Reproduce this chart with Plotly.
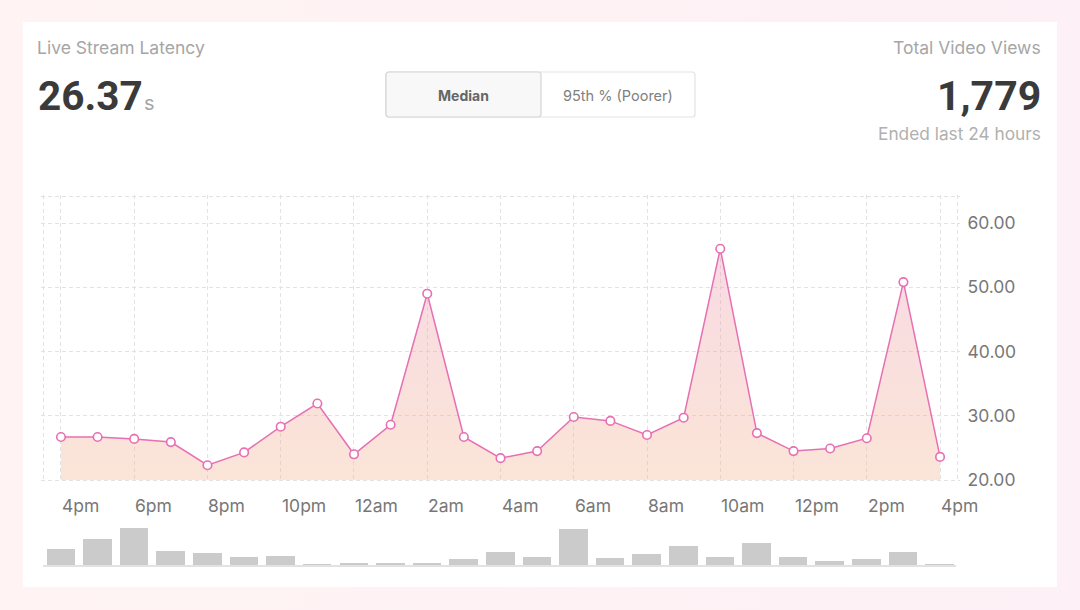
import plotly.graph_objects as go

W, H = 1080, 610

hour_labels = ["4pm", "6pm", "8pm", "10pm", "12am", "2am", "4am", "6am", "8am", "10am", "12pm", "2pm", "4pm"]
hours = list(range(25))
latency = [26.7, 26.7, 26.4, 25.9, 22.3, 24.3, 28.3, 31.9, 24.0, 28.6, 49.0, 26.7, 23.4,
           24.5, 29.8, 29.2, 27.0, 29.7, 56.0, 27.3, 24.5, 24.9, 26.5, 50.8, 23.6]
views = [96, 159, 226, 86, 72, 49, 53, 6, 12, 8, 12, 37, 81, 49, 222, 43, 69, 116, 49, 134, 49, 26, 39, 81, 4]
y_ticks = [20, 30, 40, 50, 60]

label_tick_positions = hours[::2]


def px(x):
    return x / W


def py(y):
    return 1 - y / H


def round_box(x0, y0, x1, y1, r=3):
    # rounded rectangle in paper fractions, pixel input
    rx, ry = r / W, r / H
    a, b, c, d = px(x0), py(y1), px(x1), py(y0)
    return (f"M {a + rx} {b} L {c - rx} {b} Q {c} {b} {c} {b + ry} L {c} {d - ry} Q {c} {d} {c - rx} {d} "
            f"L {a + rx} {d} Q {a} {d} {a} {d - ry} L {a} {b + ry} Q {a} {b} {a + rx} {b} Z")


def text(x, y, s, size, color, anchor="left", weight=400, font="Inter"):
    return dict(x=px(x), y=py(y), xref="paper", yref="paper", text=s, showarrow=False, xanchor=anchor,
                yanchor="middle", font=dict(size=size, color=color, family=font, weight=weight))


fig = go.Figure()

# area as a closed shape so it stops on the 20.00 line
fig.add_trace(go.Scatter(
    x=hours + hours[::-1], y=latency + [y_ticks[0]] * len(hours), mode="lines", fill="toself",
    line=dict(width=0, color="rgba(0,0,0,0)"),
    fillgradient=dict(type="vertical", start=60, stop=20,
                      colorscale=[[0, "rgba(238,160,190,0.40)"], [1, "rgba(243,185,150,0.38)"]]),
    showlegend=False, hoverinfo="skip",
))
fig.add_trace(go.Scatter(
    x=hours, y=latency, mode="lines+markers",
    line=dict(color="#e76fb3", width=1.5),
    marker=dict(size=8.5, color="white", line=dict(color="#e76fb3", width=1.6)),
    showlegend=False,
))
fig.add_trace(go.Bar(x=hours, y=views, xaxis="x2", yaxis="y2", width=0.78, marker=dict(color="#cbcbcb", line_width=0),
                     showlegend=False))

grid = "#e2e2e2"
fig.update_layout(
    width=W, height=H, margin=dict(l=0, r=0, t=0, b=0),
    paper_bgcolor="rgba(0,0,0,0)", plot_bgcolor="rgba(0,0,0,0)",
    font=dict(family="Inter", color="#777777"),
    xaxis=dict(domain=[px(41), px(960)], range=[-0.545, 24.545], tickvals=[-0.49] + label_tick_positions + [24.49],
               showticklabels=False, showgrid=True, gridcolor=grid, griddash="4px,3px", gridwidth=1, zeroline=False,
               automargin=False),
    yaxis=dict(domain=[py(482), py(195)], range=[19.69, 64.36], side="right", anchor="x",
               tickvals=y_ticks + [64.05], ticktext=[f"{v:.2f}" for v in y_ticks] + [""],
               ticks="outside", ticklen=3, tickcolor="rgba(0,0,0,0)",
               tickfont=dict(size=17.5, color="#777777", family="Inter"),
               showgrid=True, gridcolor=grid, griddash="4px,3px", gridwidth=1, zeroline=False, automargin=False),
    xaxis2=dict(domain=[px(43), px(956)], range=[-0.49, 24.45], anchor="y2", showticklabels=False, showgrid=False,
                zeroline=False, showline=True, linecolor="#e2e2e2", linewidth=1.5, ticks="", automargin=False),
    yaxis2=dict(domain=[py(565), py(525)], range=[0, 245], showticklabels=False, showgrid=False, zeroline=False,
                automargin=False),
    bargap=0,
)

fig.add_shape(type="rect", xref="paper", yref="paper", x0=px(23), x1=px(1057), y0=py(587), y1=py(22),
              fillcolor="white", line_width=0, layer="below")
fig.add_shape(type="path", xref="paper", yref="paper", path=round_box(386, 72, 695, 117),
              fillcolor="white", line=dict(color="#e3e3e3", width=1.2), layer="below")
fig.add_shape(type="path", xref="paper", yref="paper", path=round_box(386, 72, 541, 117),
              fillcolor="#f8f8f8", line=dict(color="#d5d5d5", width=1.2), layer="below")

annotations = [
    text(35, 47, "Live Stream Latency", 17.5, "#a6a6a6"),
    text(36, 96, "26.37", 40.5, "#3a3a3a", weight=700, font="Roboto"),
    text(142, 103, "s", 20, "#a6a6a6"),
    text(1043, 47, "Total Video Views", 17.5, "#a6a6a6", anchor="right"),
    text(1043, 96, "1,779", 41, "#3a3a3a", anchor="right", weight=700, font="Roboto"),
    text(1043, 134, "Ended last 24 hours", 17.3, "#b0b0b0", anchor="right"),
    text(463.5, 95, "Median", 14, "#666666", anchor="center", weight=700),
    text(618, 95, "95th % (Poorer)", 14.5, "#808080", anchor="center"),
]
for hour, label in zip(label_tick_positions, hour_labels):
    annotations.append(dict(x=hour, y=py(505), xref="x", yref="paper", text=label, showarrow=False, xanchor="left",
                            yanchor="middle", xshift=-1, font=dict(size=17.5, color="#777777", family="Inter")))
fig.update_layout(annotations=annotations)

page_css = ("document.body.style.margin='0';"
            "document.body.style.background='linear-gradient(90deg,#fff4f3,#fdf0f6)';")
fig.write_html("out.html", post_script=page_css, config=dict(displayModeBar=False))
